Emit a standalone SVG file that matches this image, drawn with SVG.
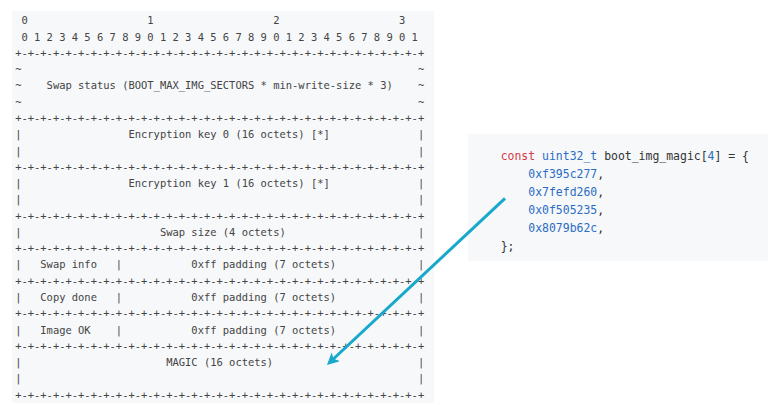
<svg xmlns="http://www.w3.org/2000/svg" width="768" height="405" viewBox="0 0 768 405" xml:space="preserve">
<style>
.panel{fill:#f6f8fa}
.art{font-family:"DejaVu Sans Mono","Liberation Mono",monospace;font-size:10.46px;fill:#444;white-space:pre}
.code{font-family:"DejaVu Sans Mono","Liberation Mono",monospace;font-size:11.46px;fill:#333;white-space:pre}
.kw{fill:#d73a49}
.num{fill:#2b6cc4}
.conn{stroke:#17a8cc;stroke-width:3;fill:none}
</style>
<defs>
<marker id="ah" viewBox="0 0 12 12" markerWidth="12" markerHeight="12" refX="4" refY="6" orient="auto" markerUnits="userSpaceOnUse">
<path d="M0,0 L12,6 L0,12 L3,6 z" fill="#17a8cc"/>
</marker>
</defs>
<rect width="768" height="405" fill="#ffffff"/>
<g id="trailer-layout">
<rect class="panel" x="12" y="11" width="422" height="392"/>
<text class="art" x="15.15" y="24.4"> 0                   1                   2                   3</text>
<text class="art" x="15.15" y="40.67"> 0 1 2 3 4 5 6 7 8 9 0 1 2 3 4 5 6 7 8 9 0 1 2 3 4 5 6 7 8 9 0 1</text>
<text class="art" x="15.15" y="56.94">+-+-+-+-+-+-+-+-+-+-+-+-+-+-+-+-+-+-+-+-+-+-+-+-+-+-+-+-+-+-+-+-+</text>
<text class="art" x="15.15" y="73.21">~                                                               ~</text>
<text class="art" x="15.15" y="89.48">~    Swap status (BOOT_MAX_IMG_SECTORS * min-write-size * 3)    ~</text>
<text class="art" x="15.15" y="105.75">~                                                               ~</text>
<text class="art" x="15.15" y="122.02">+-+-+-+-+-+-+-+-+-+-+-+-+-+-+-+-+-+-+-+-+-+-+-+-+-+-+-+-+-+-+-+-+</text>
<text class="art" x="15.15" y="138.29">|                 Encryption key 0 (16 octets) [*]              |</text>
<text class="art" x="15.15" y="154.56">|                                                               |</text>
<text class="art" x="15.15" y="170.83">+-+-+-+-+-+-+-+-+-+-+-+-+-+-+-+-+-+-+-+-+-+-+-+-+-+-+-+-+-+-+-+-+</text>
<text class="art" x="15.15" y="187.1">|                 Encryption key 1 (16 octets) [*]              |</text>
<text class="art" x="15.15" y="203.37">|                                                               |</text>
<text class="art" x="15.15" y="219.64">+-+-+-+-+-+-+-+-+-+-+-+-+-+-+-+-+-+-+-+-+-+-+-+-+-+-+-+-+-+-+-+-+</text>
<text class="art" x="15.15" y="235.91">|                      Swap size (4 octets)                     |</text>
<text class="art" x="15.15" y="252.18">+-+-+-+-+-+-+-+-+-+-+-+-+-+-+-+-+-+-+-+-+-+-+-+-+-+-+-+-+-+-+-+-+</text>
<text class="art" x="15.15" y="268.45">|   Swap info   |           0xff padding (7 octets)             |</text>
<text class="art" x="15.15" y="284.72">+-+-+-+-+-+-+-+-+-+-+-+-+-+-+-+-+-+-+-+-+-+-+-+-+-+-+-+-+-+-+-+-+</text>
<text class="art" x="15.15" y="300.99">|   Copy done   |           0xff padding (7 octets)             |</text>
<text class="art" x="15.15" y="317.26">+-+-+-+-+-+-+-+-+-+-+-+-+-+-+-+-+-+-+-+-+-+-+-+-+-+-+-+-+-+-+-+-+</text>
<text class="art" x="15.15" y="333.53">|   Image OK    |           0xff padding (7 octets)             |</text>
<text class="art" x="15.15" y="349.8">+-+-+-+-+-+-+-+-+-+-+-+-+-+-+-+-+-+-+-+-+-+-+-+-+-+-+-+-+-+-+-+-+</text>
<text class="art" x="15.15" y="366.07">|                       MAGIC (16 octets)                       |</text>
<text class="art" x="15.15" y="382.34">|                                                               |</text>
<text class="art" x="15.15" y="398.61">+-+-+-+-+-+-+-+-+-+-+-+-+-+-+-+-+-+-+-+-+-+-+-+-+-+-+-+-+-+-+-+-+</text>
</g>
<g id="magic-code">
<rect class="panel" x="468" y="134" width="300" height="127"/>
<text class="code" x="500.7" y="159.5"><tspan class="kw">const</tspan> <tspan class="num">uint32_t</tspan> boot_img_magic[<tspan class="num">4</tspan>] = {</text>
<text class="code" x="500.7" y="177.5">    <tspan class="num">0xf395c277</tspan>,</text>
<text class="code" x="500.7" y="195.5">    <tspan class="num">0x7fefd260</tspan>,</text>
<text class="code" x="500.7" y="213.5">    <tspan class="num">0x0f505235</tspan>,</text>
<text class="code" x="500.7" y="231.5">    <tspan class="num">0x8079b62c</tspan>,</text>
<text class="code" x="500.7" y="249.5">};</text>
</g>
<g id="connectors">
<line class="conn" x1="505" y1="198.3" x2="332.8" y2="359.5" marker-end="url(#ah)"/>
</g>
</svg>
